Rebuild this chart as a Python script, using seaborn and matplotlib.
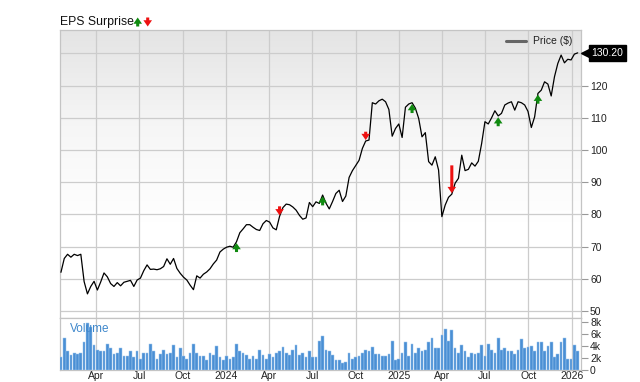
import numpy as np
import pandas as pd
import matplotlib
matplotlib.use("Agg")
import matplotlib.pyplot as plt
import matplotlib.dates as mdates
import matplotlib.transforms as mtransforms
from matplotlib.colors import LinearSegmentedColormap
import seaborn as sns

# ---------------- data (weekly) ----------------
start_date = "2023-01-17"
price = [
    62.0, 66.3, 67.6, 66.7, 67.6, 67.2, 67.6, 59.1, 55.3, 57.6,
    59.2, 56.5, 59.0, 61.8, 60.6, 58.5, 57.6, 58.8, 57.8, 58.9,
    59.2, 59.5, 57.6, 59.6, 60.2, 62.5, 64.3, 62.9, 63.0, 62.8,
    63.1, 63.8, 66.2, 64.5, 66.3, 63.2, 61.7, 60.5, 59.6, 58.0,
    56.6, 60.9, 60.2, 61.4, 62.1, 63.1, 64.6, 65.8, 68.3, 69.2,
    69.8, 70.1, 69.8, 71.5, 74.3, 75.5, 76.8, 76.8, 76.0, 75.3,
    75.0, 77.1, 78.1, 77.6, 75.8, 75.2, 79.4, 82.1, 83.2, 83.0,
    82.3, 81.3, 79.7, 78.5, 78.9, 83.7, 82.4, 83.9, 83.4, 86.0,
    83.5, 81.7, 84.0, 86.5, 87.5, 84.0, 85.7, 91.5, 93.6, 95.2,
    96.8, 100.5, 102.8, 103.1, 114.7, 114.3, 115.3, 115.8, 115.0, 112.6,
    104.3, 106.7, 108.1, 103.9, 113.3, 114.3, 114.7, 113.0, 109.8, 104.1,
    105.4, 96.4, 95.3, 97.9, 93.8, 79.3, 82.9, 85.3, 86.3, 89.7,
    91.2, 98.4, 93.6, 94.0, 96.0, 95.0, 96.5, 102.0, 108.8, 108.1,
    110.0, 112.2, 110.6, 111.4, 114.0, 114.6, 115.0, 112.4, 115.0, 114.7,
    114.0, 112.0, 107.0, 110.3, 117.6, 118.6, 121.2, 120.5, 116.8, 122.8,
    126.9, 129.5, 127.1, 128.2, 128.0, 129.8, 130.2,
]
volume_k = [
    2.2, 5.3, 3.2, 2.5, 2.9, 2.6, 2.9, 4.7, 7.9, 7.2,
    4.2, 3.3, 3.1, 3.1, 4.3, 3.6, 2.6, 2.9, 3.6, 2.3,
    2.4, 3.1, 2.2, 3.2, 1.9, 2.9, 2.9, 4.4, 3.2, 1.8,
    2.6, 3.4, 2.6, 2.9, 4.1, 2.2, 3.7, 2.4, 1.8, 2.8,
    4.4, 2.9, 2.3, 2.3, 1.6, 2.9, 2.5, 4.0, 2.2, 1.7,
    2.3, 1.8, 2.1, 4.3, 3.2, 2.9, 2.5, 1.8, 2.3, 1.9,
    3.3, 2.5, 1.9, 2.7, 2.2, 2.9, 3.2, 3.8, 2.9, 2.5,
    3.4, 4.2, 2.5, 2.9, 2.1, 3.2, 2.1, 2.2,
    4.9, 5.6, 3.3, 3.2, 2.5, 1.7, 1.6, 1.2, 1.4, 2.9,
    1.8, 2.1, 2.3, 2.9, 3.3, 3.1, 3.9, 2.7, 2.7, 2.3,
    2.3, 2.6, 4.9, 1.7, 1.8, 2.8, 4.6, 2.3, 4.3, 2.9,
    3.7, 3.1, 3.4, 4.6, 5.4, 3.6, 3.6, 5.9, 6.9, 4.8,
    6.7, 3.6, 2.9, 4.1, 3.2, 2.2, 2.8, 2.6, 2.9, 4.1,
    2.4, 4.3, 3.4, 2.9, 5.3, 3.4, 3.6, 3.2, 3.2, 2.7,
    3.4, 5.1, 3.7, 3.8, 4.0, 3.2, 4.6, 4.6, 3.1, 4.0,
    4.7, 2.2, 2.7, 4.7, 5.3, 1.8, 1.9, 4.2, 3.1,
]
eps_up_weeks = [53, 79, 106, 132, 144]
eps_down_weeks = [66, 92, 118]
eps_down_size = [6.5, 6.0, 20.0]   # arrow length (surprise magnitude)
price_ticks = [50, 60, 70, 80, 90, 100, 110, 120, 130]
price_tick_labels = ["50", "60", "70", "80", "90", "100", "110", "120", ""]  # 130 hidden by price tag
volume_ticks = [0, 2, 4, 6, 8]
volume_tick_labels = ["0", "2k", "4k", "6k", "8k"]

# ---------------- style ----------------
sns.set_theme(style="white")
plt.rcParams["font.family"] = ["Liberation Sans", "DejaVu Sans"]

dates_p = pd.date_range(start_date, periods=len(price), freq="7D")
dates_v = pd.date_range(start_date, periods=len(volume_k), freq="7D")
df = pd.DataFrame({"date": dates_p, "price": price})

W, H = 640, 382
fig = plt.figure(figsize=(6.4, 3.82), dpi=100)
fig.patch.set_facecolor("white")


def rect(x0, y0, x1, y1):
    return [x0 / W, 1 - y1 / H, (x1 - x0) / W, (y1 - y0) / H]


ax = fig.add_axes(rect(60, 30, 581, 318))
axv = fig.add_axes(rect(60, 318, 581, 370), sharex=ax)

GRID = "#cccccc"
SPINE = "#c4c4c4"
ARROW = "simple,head_length=0.45,head_width=0.62,tail_width=0.22"

# background gradient
grad = np.linspace(0, 1, 256).reshape(-1, 1)
cmap = LinearSegmentedColormap.from_list("g", ["#e4e4e4", "#f6f6f6", "#ffffff", "#ffffff"])
ax.imshow(grad, extent=[0, 1, 0, 1], transform=ax.transAxes, cmap=cmap,
          aspect="auto", zorder=0)

sns.lineplot(data=df, x="date", y="price", ax=ax, color="black", lw=0.9,
             label="Price ($)", zorder=3)

xmin, xmax = pd.Timestamp("2023-01-15"), pd.Timestamp("2026-01-20")
ax.set_xlim(xmin, xmax)
ax.set_ylim(47.8, 137.3)
ax.set_xlabel("")
ax.set_ylabel("")

# EPS surprise arrows
for w in eps_up_weeks:
    ax.annotate("", xy=(dates_p[w], price[w] - 0.4), xytext=(0, -6.5),
                textcoords="offset points",
                arrowprops=dict(arrowstyle=ARROW, color="#108a10", mutation_scale=10,
                                shrinkA=0, shrinkB=0, lw=0),
                zorder=5)
for w, s in zip(eps_down_weeks, eps_down_size):
    ax.annotate("", xy=(dates_p[w], price[w] + 0.3), xytext=(0, s),
                textcoords="offset points",
                arrowprops=dict(arrowstyle=ARROW, color="#ee1111", mutation_scale=10,
                                shrinkA=0, shrinkB=0, lw=0),
                zorder=5)

# price axis styling
ax.yaxis.tick_right()
ax.set_yticks(price_ticks)
ax.set_yticklabels(price_tick_labels)
ax.tick_params(axis="y", length=5, width=0.8, color="#999999", labelsize=7.5,
               labelcolor="#222222", pad=1.5, right=True, left=False)
ax.tick_params(axis="x", length=0, labelbottom=False)
ax.grid(True, color=GRID, lw=0.9)
for sp in ax.spines.values():
    sp.set_color(SPINE)
    sp.set_linewidth(0.9)

leg = ax.legend(loc="center right", bbox_to_anchor=((572 - 60) / 521, 1 - (41.5 - 30) / 288),
                frameon=False, fontsize=7.5, handlelength=2.0, handletextpad=0.6,
                borderaxespad=0, borderpad=0)
for ln in leg.get_lines():
    ln.set_color("#666666")
    ln.set_linewidth(2.2)
for t in leg.get_texts():
    t.set_color("#222222")

# last price tag
blend = mtransforms.blended_transform_factory(ax.transAxes, ax.transData)
ax.plot([1 + 5.5 / 521], [price[-1]], marker="<", markersize=9, color="black",
        transform=blend, clip_on=False, zorder=6)
ax.text(1 + 26.5 / 521, price[-1], f"{price[-1]:.2f}", transform=blend, ha="center",
        va="center", fontsize=7.5, color="white", zorder=7,
        bbox=dict(boxstyle="square,pad=0.28", fc="black", ec="black"))

# volume
axv.bar(dates_v, volume_k, width=5.6, color="#4a8fd4", edgecolor="#9fc6ee", linewidth=0.35,
        zorder=3)
axv.set_ylim(0, 8.67)
axv.set_xlim(xmin, xmax)
axv.yaxis.tick_right()
axv.set_yticks(volume_ticks)
axv.set_yticklabels(volume_tick_labels)
axv.tick_params(axis="y", length=5, width=0.8, color="#999999", labelsize=7.5,
                labelcolor="#222222", pad=1.5, right=True, left=False)
axv.set_facecolor("white")
axv.grid(True, axis="x", color=GRID, lw=0.9)
axv.grid(False, axis="y")
for sp in axv.spines.values():
    sp.set_color(SPINE)
    sp.set_linewidth(0.9)
axv.text(10 / 521, 1 - 11 / 52, "Volume", transform=axv.transAxes, color="#3f88cc",
         fontsize=8.5, va="center", ha="left", zorder=6)

axv.xaxis.set_major_locator(mdates.MonthLocator(bymonth=[1, 4, 7, 10]))


def fmt(x, pos=None):
    d = mdates.num2date(x)
    return str(d.year) if d.month == 1 else d.strftime("%b")


axv.xaxis.set_major_formatter(plt.FuncFormatter(fmt))
axv.tick_params(axis="x", length=0, labelsize=7.5, labelcolor="#222222", pad=1.0)

# title
fig.text(60 / W, 1 - 25.5 / H, "EPS Surprise", fontsize=8.8, color="#111111",
         ha="left", va="baseline")
ax.annotate("", xy=(137.7, H - 17.5), xytext=(137.7, H - 26.5), xycoords="figure pixels",
            textcoords="figure pixels",
            arrowprops=dict(arrowstyle=ARROW, color="#108a10", mutation_scale=10,
                            shrinkA=0, shrinkB=0, lw=0),
            annotation_clip=False)
ax.annotate("", xy=(147.7, H - 26.5), xytext=(147.7, H - 17.5), xycoords="figure pixels",
            textcoords="figure pixels",
            arrowprops=dict(arrowstyle=ARROW, color="#ee1111", mutation_scale=10,
                            shrinkA=0, shrinkB=0, lw=0),
            annotation_clip=False)

fig.savefig("out.png", dpi=100)
